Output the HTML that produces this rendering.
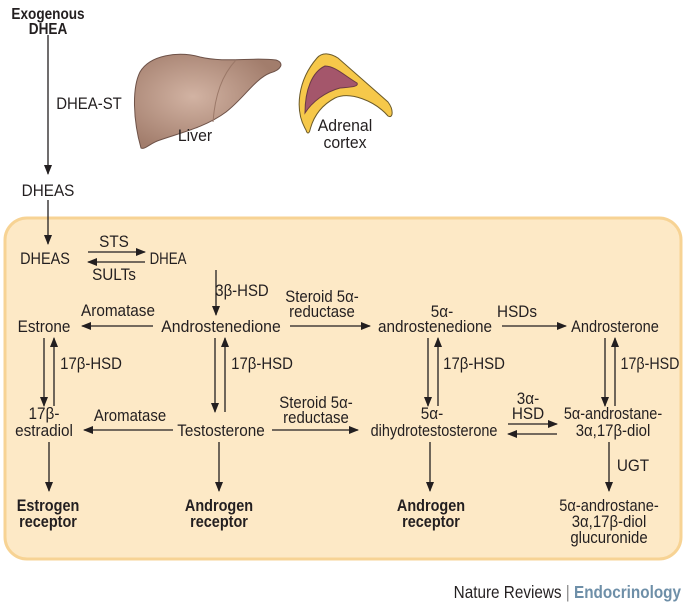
<!DOCTYPE html>
<html><head><meta charset="utf-8"><style>
html,body{margin:0;padding:0;background:#fff;}
svg{display:block;font-family:"Liberation Sans",sans-serif;}
text{font-size:17px;fill:#231f20;}
.b{font-weight:bold;}
</style></head><body>
<svg width="685" height="604" viewBox="0 0 685 604" xmlns="http://www.w3.org/2000/svg">
<defs>
<marker id="a" markerWidth="10" markerHeight="8" refX="9" refY="4" orient="auto" markerUnits="userSpaceOnUse">
<path d="M0,0 L10,4 L0,8 Z" fill="#231f20"/></marker>
<radialGradient id="lv" cx="0.4" cy="0.45" r="0.6"><stop offset="0" stop-color="#d2b3a3"/><stop offset="1" stop-color="#a27d6c"/></radialGradient>
</defs>
<rect x="5" y="218" width="676" height="341" rx="22" fill="#fde9c6" stroke="#f7d394" stroke-width="3"/>
<path d="M141,148 C133,120 132,88 140,72 C150,55 178,51 200,57 C225,63 252,57 276,60 C285,63 281,70 270,73 C255,79 244,98 226,112 C206,127 180,133 160,140 C150,143 145,150 141,148 Z" fill="url(#lv)" stroke="#6e5248" stroke-width="1"/>
<path d="M236,60 C222,75 215,95 213,122" fill="none" stroke="#9b7868" stroke-width="1"/>
<path d="M306,130 C294,110 298,80 317,58 C322,52 330,53 338,58 L388,102 C394,110 393,119 388,116 C375,101 350,91 335,98 C320,106 313,118 310,130 C309,134 307,134 306,130 Z" fill="#f6c84a" stroke="#6b5a2a" stroke-width="1"/>
<path d="M305,113 C305,90 312,72 325,66 C335,66 345,76 357,83 C359,87 350,87 340,88 C325,92 312,102 305,113 Z" fill="#a4566b" stroke="#6b3a45" stroke-width="1"/>
<g stroke="#231f20" stroke-width="1.3" fill="none" marker-end="url(#a)">
<line x1="48" y1="35" x2="48" y2="174"/>
<line x1="48" y1="200" x2="48" y2="244"/>
<line x1="88" y1="252" x2="145" y2="252"/>
<line x1="145" y1="262" x2="88" y2="262"/>
<line x1="216" y1="270" x2="216" y2="315"/>
<line x1="153" y1="326" x2="82" y2="326"/>
<line x1="290" y1="326" x2="370" y2="326"/>
<line x1="502" y1="326" x2="566" y2="326"/>
<line x1="44" y1="338" x2="44" y2="406"/>
<line x1="54" y1="406" x2="54" y2="338"/>
<line x1="215" y1="338" x2="215" y2="412"/>
<line x1="225" y1="412" x2="225" y2="338"/>
<line x1="428" y1="338" x2="428" y2="406"/>
<line x1="438" y1="406" x2="438" y2="338"/>
<line x1="605" y1="338" x2="605" y2="406"/>
<line x1="615" y1="406" x2="615" y2="338"/>
<line x1="173" y1="430" x2="84" y2="430"/>
<line x1="272" y1="430" x2="358" y2="430"/>
<line x1="508" y1="424" x2="557" y2="424"/>
<line x1="557" y1="434" x2="508" y2="434"/>
<line x1="49" y1="442" x2="49" y2="491"/>
<line x1="219" y1="442" x2="219" y2="491"/>
<line x1="430" y1="442" x2="430" y2="491"/>
<line x1="609" y1="442" x2="609" y2="491"/>
</g>
<g text-anchor="middle">
<text class="b" transform="translate(48,19) scale(0.85,1)" style="font-size:16px">Exogenous</text>
<text class="b" transform="translate(48,34) scale(0.85,1)" style="font-size:16px">DHEA</text>
<text transform="translate(89,109) scale(0.88,1)">DHEA-ST</text>
<text transform="translate(48,196) scale(0.9,1)">DHEAS</text>
<text transform="translate(195,141) scale(0.93,1)">Liver</text>
<text transform="translate(345,131) scale(0.93,1)">Adrenal</text>
<text transform="translate(345,148) scale(0.93,1)">cortex</text>
<text transform="translate(45,264) scale(0.85,1)">DHEAS</text>
<text transform="translate(114,247) scale(0.9,1)">STS</text>
<text transform="translate(114,280) scale(0.9,1)">SULTs</text>
<text transform="translate(168,264) scale(0.78,1)">DHEA</text>
<text transform="translate(242,296) scale(0.88,1)">3β-HSD</text>
<text transform="translate(44,332) scale(0.9,1)">Estrone</text>
<text transform="translate(118,316) scale(0.9,1)">Aromatase</text>
<text transform="translate(221,332) scale(0.93,1)">Androstenedione</text>
<text transform="translate(322,302) scale(0.88,1)">Steroid 5α-</text>
<text transform="translate(322,317) scale(0.88,1)">reductase</text>
<text transform="translate(442,317) scale(0.9,1)">5α-</text>
<text transform="translate(435,332) scale(0.9,1)">androstenedione</text>
<text transform="translate(517,317) scale(0.9,1)">HSDs</text>
<text transform="translate(615,332) scale(0.86,1)">Androsterone</text>
<text transform="translate(91,369) scale(0.88,1)">17β-HSD</text>
<text transform="translate(262,369) scale(0.88,1)">17β-HSD</text>
<text transform="translate(474,369) scale(0.88,1)">17β-HSD</text>
<text transform="translate(650,369) scale(0.84,1)">17β-HSD</text>
<text transform="translate(44,419) scale(0.9,1)">17β-</text>
<text transform="translate(44,436) scale(0.9,1)">estradiol</text>
<text transform="translate(130,421) scale(0.88,1)">Aromatase</text>
<text transform="translate(221,436) scale(0.9,1)">Testosterone</text>
<text transform="translate(316,408) scale(0.88,1)">Steroid 5α-</text>
<text transform="translate(316,423) scale(0.88,1)">reductase</text>
<text transform="translate(432,419) scale(0.9,1)">5α-</text>
<text transform="translate(434,436) scale(0.85,1)">dihydrotestosterone</text>
<text transform="translate(528,404) scale(0.9,1)">3α-</text>
<text transform="translate(528,419) scale(0.9,1)">HSD</text>
<text transform="translate(613,419) scale(0.85,1)">5α-androstane-</text>
<text transform="translate(613,436) scale(0.88,1)">3α,17β-diol</text>
<text transform="translate(633,471) scale(0.9,1)">UGT</text>
<text class="b" transform="translate(48,511) scale(0.85,1)">Estrogen</text>
<text class="b" transform="translate(48,527) scale(0.85,1)">receptor</text>
<text class="b" transform="translate(219,511) scale(0.85,1)">Androgen</text>
<text class="b" transform="translate(219,527) scale(0.85,1)">receptor</text>
<text class="b" transform="translate(431,511) scale(0.85,1)">Androgen</text>
<text class="b" transform="translate(431,527) scale(0.85,1)">receptor</text>
<text transform="translate(609,511) scale(0.86,1)">5α-androstane-</text>
<text transform="translate(609,527) scale(0.88,1)">3α,17β-diol</text>
<text transform="translate(609,543) scale(0.88,1)">glucuronide</text>
</g>
<text text-anchor="end" transform="translate(681,598) scale(0.85,1)" style="font-size:18px"><tspan>Nature Reviews</tspan><tspan fill="#888"> | </tspan><tspan class="b" style="fill:#6e8fa8">Endocrinology</tspan></text>
</svg>
</body></html>
